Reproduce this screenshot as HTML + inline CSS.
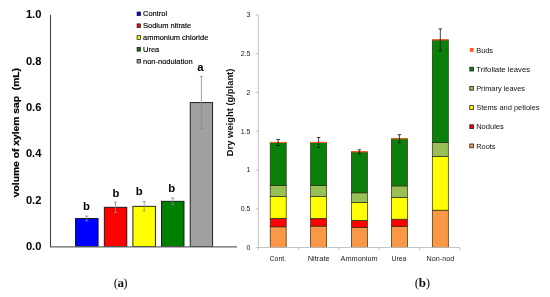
<!DOCTYPE html>
<html><head><meta charset="utf-8"><title>Figure</title>
<style>html,body{margin:0;padding:0;background:#fff}svg{display:block}</style></head>
<body>
<svg width="550" height="297" viewBox="0 0 550 297">
<rect width="550" height="297" fill="#fff"/>
<g font-family="Liberation Sans, Arial, sans-serif">
<rect x="75.5" y="218.5" width="22.6" height="28.0" fill="#0000ff" stroke="#111" stroke-width="0.9"/>
<path d="M86.8 216.1V220.9M85.2 216.1h3.2M85.2 220.9h3.2" stroke="#8a8a8a" stroke-width="0.8" fill="none"/>
<rect x="104.3" y="207.3" width="22.5" height="39.2" fill="#ff0000" stroke="#111" stroke-width="0.9"/>
<path d="M115.5 202.1V212.5M114.0 202.1h3.2M114.0 212.5h3.2" stroke="#8a8a8a" stroke-width="0.8" fill="none"/>
<rect x="132.9" y="206.3" width="22.5" height="40.2" fill="#ffff00" stroke="#111" stroke-width="0.9"/>
<path d="M144.2 201.6V211.0M142.6 201.6h3.2M142.6 211.0h3.2" stroke="#8a8a8a" stroke-width="0.8" fill="none"/>
<rect x="161.5" y="201.3" width="22.5" height="45.2" fill="#008000" stroke="#111" stroke-width="0.9"/>
<path d="M172.8 198.0V204.6M171.2 198.0h3.2M171.2 204.6h3.2" stroke="#8a8a8a" stroke-width="0.8" fill="none"/>
<rect x="190.2" y="102.6" width="22.4" height="143.9" fill="#a0a0a0" stroke="#111" stroke-width="0.9"/>
<path d="M201.4 76.6V128.6M199.8 76.6h3.2M199.8 128.6h3.2" stroke="#8a8a8a" stroke-width="0.8" fill="none"/>
<path d="M50.5 14.8V247.1" stroke="#444" stroke-width="1.1" fill="none"/>
<path d="M50.0 246.85H237" stroke="#666" stroke-width="1.4" fill="none"/>
<text x="41.4" y="250.0" font-size="10" font-weight="bold" text-anchor="end" textLength="15.5" lengthAdjust="spacingAndGlyphs">0.0</text>
<text x="41.4" y="203.7" font-size="10" font-weight="bold" text-anchor="end" textLength="15.5" lengthAdjust="spacingAndGlyphs">0.2</text>
<text x="41.4" y="157.3" font-size="10" font-weight="bold" text-anchor="end" textLength="15.5" lengthAdjust="spacingAndGlyphs">0.4</text>
<text x="41.4" y="111.0" font-size="10" font-weight="bold" text-anchor="end" textLength="15.5" lengthAdjust="spacingAndGlyphs">0.6</text>
<text x="41.4" y="64.6" font-size="10" font-weight="bold" text-anchor="end" textLength="15.5" lengthAdjust="spacingAndGlyphs">0.8</text>
<text x="41.4" y="18.3" font-size="10" font-weight="bold" text-anchor="end" textLength="15.5" lengthAdjust="spacingAndGlyphs">1.0</text>
<text x="86.5" y="209.8" font-size="10" font-weight="bold" text-anchor="middle" textLength="6.9" lengthAdjust="spacingAndGlyphs">b</text>
<text x="115.9" y="196.7" font-size="10" font-weight="bold" text-anchor="middle" textLength="6.9" lengthAdjust="spacingAndGlyphs">b</text>
<text x="139.2" y="195.4" font-size="10" font-weight="bold" text-anchor="middle" textLength="6.9" lengthAdjust="spacingAndGlyphs">b</text>
<text x="171.7" y="191.8" font-size="10" font-weight="bold" text-anchor="middle" textLength="6.9" lengthAdjust="spacingAndGlyphs">b</text>
<text x="200.4" y="70.6" font-size="10" font-weight="bold" text-anchor="middle" textLength="6.3" lengthAdjust="spacingAndGlyphs">a</text>
<text transform="translate(19.0 132.6) rotate(-90)" font-size="8.8" font-weight="bold" stroke="#000" stroke-width="0.2" text-anchor="middle" textLength="129.3" lengthAdjust="spacingAndGlyphs" xml:space="preserve">volume of xylem sap  (mL)</text>
<rect x="137.1" y="12.0" width="3.4" height="3.6" fill="#0000ff" stroke="#222" stroke-width="0.8"/>
<text transform="translate(143 16.2) scale(0.95 1)" font-size="7.9" stroke="#000" stroke-width="0.15">Control</text>
<rect x="137.1" y="23.9" width="3.4" height="3.6" fill="#ff0000" stroke="#222" stroke-width="0.8"/>
<text transform="translate(143 28.1) scale(0.95 1)" font-size="7.9" stroke="#000" stroke-width="0.15">Sodium nitrate</text>
<rect x="137.1" y="35.7" width="3.4" height="3.6" fill="#ffff00" stroke="#222" stroke-width="0.8"/>
<text transform="translate(143 39.9) scale(0.95 1)" font-size="7.9" stroke="#000" stroke-width="0.15">ammonium chloride</text>
<rect x="137.1" y="47.5" width="3.4" height="3.6" fill="#008000" stroke="#222" stroke-width="0.8"/>
<text transform="translate(143 51.7) scale(0.95 1)" font-size="7.9" stroke="#000" stroke-width="0.15">Urea</text>
<rect x="137.1" y="59.4" width="3.4" height="3.6" fill="#a0a0a0" stroke="#222" stroke-width="0.8"/>
<text transform="translate(143 63.6) scale(0.95 1)" font-size="7.9" stroke="#000" stroke-width="0.15">non-nodulation</text>
</g>
<g font-family="Liberation Sans, Arial, sans-serif">
<rect x="270.2" y="226.8" width="16.0" height="20.7" fill="#fa9845" stroke="#2a2a10" stroke-width="0.7"/>
<rect x="270.2" y="218.4" width="16.0" height="8.4" fill="#ff0000" stroke="#2a2a10" stroke-width="0.7"/>
<rect x="270.2" y="196.6" width="16.0" height="21.8" fill="#ffff00" stroke="#2a2a10" stroke-width="0.7"/>
<rect x="270.2" y="185.6" width="16.0" height="11.0" fill="#98c057" stroke="#2a2a10" stroke-width="0.7"/>
<rect x="270.2" y="142.5" width="16.0" height="43.1" fill="#0a800a" stroke="#2a2a10" stroke-width="0.7"/>
<rect x="269.9" y="141.9" width="16.6" height="1.1" fill="#ff5a1a"/>
<path d="M278.2 139.5V145.5M276.4 139.5h3.6M276.4 145.5h3.6" stroke="#111" stroke-width="0.8" fill="none"/>
<rect x="310.6" y="226.1" width="16.0" height="21.4" fill="#fa9845" stroke="#2a2a10" stroke-width="0.7"/>
<rect x="310.6" y="218.4" width="16.0" height="7.7" fill="#ff0000" stroke="#2a2a10" stroke-width="0.7"/>
<rect x="310.6" y="196.6" width="16.0" height="21.8" fill="#ffff00" stroke="#2a2a10" stroke-width="0.7"/>
<rect x="310.6" y="185.6" width="16.0" height="11.0" fill="#98c057" stroke="#2a2a10" stroke-width="0.7"/>
<rect x="310.6" y="142.5" width="16.0" height="43.1" fill="#0a800a" stroke="#2a2a10" stroke-width="0.7"/>
<rect x="310.3" y="141.9" width="16.6" height="1.1" fill="#ff5a1a"/>
<path d="M318.6 137.5V147.5M316.8 137.5h3.6M316.8 147.5h3.6" stroke="#111" stroke-width="0.8" fill="none"/>
<rect x="351.4" y="227.6" width="16.0" height="19.9" fill="#fa9845" stroke="#2a2a10" stroke-width="0.7"/>
<rect x="351.4" y="220.4" width="16.0" height="7.2" fill="#ff0000" stroke="#2a2a10" stroke-width="0.7"/>
<rect x="351.4" y="202.5" width="16.0" height="17.9" fill="#ffff00" stroke="#2a2a10" stroke-width="0.7"/>
<rect x="351.4" y="192.8" width="16.0" height="9.7" fill="#98c057" stroke="#2a2a10" stroke-width="0.7"/>
<rect x="351.4" y="151.8" width="16.0" height="41.0" fill="#0a800a" stroke="#2a2a10" stroke-width="0.7"/>
<rect x="351.1" y="151.2" width="16.6" height="1.1" fill="#ff5a1a"/>
<path d="M359.4 149.8V153.8M357.6 149.8h3.6M357.6 153.8h3.6" stroke="#111" stroke-width="0.8" fill="none"/>
<rect x="391.4" y="226.3" width="16.0" height="21.2" fill="#fa9845" stroke="#2a2a10" stroke-width="0.7"/>
<rect x="391.4" y="219.2" width="16.0" height="7.1" fill="#ff0000" stroke="#2a2a10" stroke-width="0.7"/>
<rect x="391.4" y="197.4" width="16.0" height="21.8" fill="#ffff00" stroke="#2a2a10" stroke-width="0.7"/>
<rect x="391.4" y="185.9" width="16.0" height="11.5" fill="#98c057" stroke="#2a2a10" stroke-width="0.7"/>
<rect x="391.4" y="138.7" width="16.0" height="47.2" fill="#0a800a" stroke="#2a2a10" stroke-width="0.7"/>
<rect x="391.1" y="138.1" width="16.6" height="1.1" fill="#ff5a1a"/>
<path d="M399.4 134.7V142.7M397.6 134.7h3.6M397.6 142.7h3.6" stroke="#111" stroke-width="0.8" fill="none"/>
<rect x="432.3" y="210.2" width="16.0" height="37.3" fill="#fa9845" stroke="#2a2a10" stroke-width="0.7"/>
<rect x="432.3" y="156.6" width="16.0" height="53.6" fill="#ffff00" stroke="#2a2a10" stroke-width="0.7"/>
<rect x="432.3" y="142.5" width="16.0" height="14.1" fill="#98c057" stroke="#2a2a10" stroke-width="0.7"/>
<rect x="432.3" y="39.9" width="16.0" height="102.6" fill="#0a800a" stroke="#2a2a10" stroke-width="0.7"/>
<rect x="432.0" y="39.3" width="16.6" height="1.1" fill="#ff5a1a"/>
<path d="M440.3 28.9V50.9M438.5 28.9h3.6M438.5 50.9h3.6" stroke="#111" stroke-width="0.8" fill="none"/>
<path d="M258.3 14.8V247.5H459.8M255.70000000000002 247.5H258.3M255.70000000000002 208.7H258.3M255.70000000000002 169.9H258.3M255.70000000000002 131.2H258.3M255.70000000000002 92.4H258.3M255.70000000000002 53.6H258.3M255.70000000000002 14.8H258.3M258.3 247.5v2.6M298.6 247.5v2.6M338.9 247.5v2.6M379.2 247.5v2.6M419.5 247.5v2.6M459.8 247.5v2.6" stroke="#bdbdbd" stroke-width="0.9" fill="none"/>
<text x="250.4" y="250.0" font-size="7" text-anchor="end" fill="#222">0</text>
<text x="250.4" y="211.2" font-size="7" text-anchor="end" fill="#222">0.5</text>
<text x="250.4" y="172.4" font-size="7" text-anchor="end" fill="#222">1</text>
<text x="250.4" y="133.7" font-size="7" text-anchor="end" fill="#222">1.5</text>
<text x="250.4" y="94.9" font-size="7" text-anchor="end" fill="#222">2</text>
<text x="250.4" y="56.1" font-size="7" text-anchor="end" fill="#222">2.5</text>
<text x="250.4" y="17.3" font-size="7" text-anchor="end" fill="#222">3</text>
<text x="277.9" y="261" font-size="7.4" text-anchor="middle" fill="#222" textLength="16.7" lengthAdjust="spacingAndGlyphs">Cont.</text>
<text x="318.7" y="261" font-size="7.4" text-anchor="middle" fill="#222" textLength="22.0" lengthAdjust="spacingAndGlyphs">Nitrate</text>
<text x="359.1" y="261" font-size="7.4" text-anchor="middle" fill="#222" textLength="37.0" lengthAdjust="spacingAndGlyphs">Ammonium</text>
<text x="399" y="261" font-size="7.4" text-anchor="middle" fill="#222" textLength="14.9" lengthAdjust="spacingAndGlyphs">Urea</text>
<text x="440.4" y="261" font-size="7.4" text-anchor="middle" fill="#222" textLength="27.6" lengthAdjust="spacingAndGlyphs">Non-nod</text>
<text transform="translate(233.0 112.4) rotate(-90)" font-size="9.4" font-weight="bold" text-anchor="middle" fill="#111">Dry weight (g/plant)</text>
<rect x="469.8" y="48.0" width="3.8" height="3.8" fill="#ff5a1a"/>
<text x="476.2" y="52.6" font-size="7.8" fill="#111" textLength="16.9" lengthAdjust="spacingAndGlyphs">Buds</text>
<rect x="469.8" y="67.2" width="3.8" height="3.8" fill="#0a800a" stroke="#222" stroke-width="0.8"/>
<text x="476.2" y="71.8" font-size="7.8" fill="#111" textLength="54.0" lengthAdjust="spacingAndGlyphs">Trifoliate leaves</text>
<rect x="469.8" y="86.4" width="3.8" height="3.8" fill="#98c057" stroke="#222" stroke-width="0.8"/>
<text x="476.2" y="91.0" font-size="7.8" fill="#111" textLength="48.8" lengthAdjust="spacingAndGlyphs">Primary leaves</text>
<rect x="469.8" y="105.6" width="3.8" height="3.8" fill="#ffff00" stroke="#222" stroke-width="0.8"/>
<text x="476.2" y="110.2" font-size="7.8" fill="#111" textLength="63.4" lengthAdjust="spacingAndGlyphs">Stems and petioles</text>
<rect x="469.8" y="124.8" width="3.8" height="3.8" fill="#ff0000" stroke="#222" stroke-width="0.8"/>
<text x="476.2" y="129.4" font-size="7.8" fill="#111" textLength="27.6" lengthAdjust="spacingAndGlyphs">Nodules</text>
<rect x="469.8" y="144.0" width="3.8" height="3.8" fill="#fa9845" stroke="#222" stroke-width="0.8"/>
<text x="476.2" y="148.6" font-size="7.8" fill="#111" textLength="19.4" lengthAdjust="spacingAndGlyphs">Roots</text>
</g>
<g font-family="Liberation Serif, Times New Roman, serif" font-size="13" text-anchor="middle" fill="#111">
<text x="120.7" y="287">(<tspan font-weight="bold" dx="-0.6">a</tspan><tspan dx="-0.6">)</tspan></text>
<text x="422.4" y="287">(<tspan font-weight="bold" dx="-0.3">b</tspan><tspan dx="-0.3">)</tspan></text>
</g>
</svg>
</body></html>
